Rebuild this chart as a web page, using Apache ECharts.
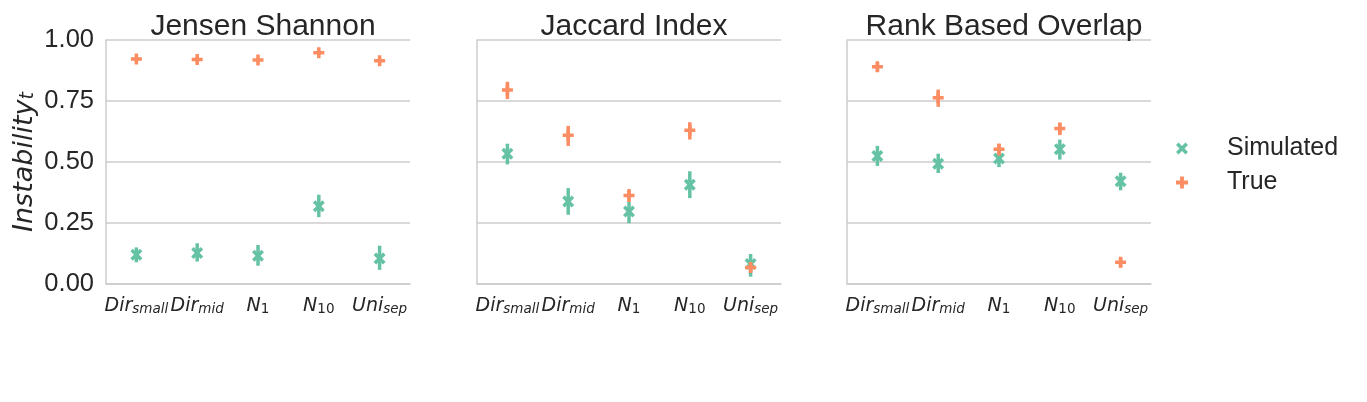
<!DOCTYPE html>
<html>
<head>
<meta charset="utf-8">
<script src="https://cdn.jsdelivr.net/npm/echarts@6/dist/echarts.min.js"></script>
<style>
html,body{margin:0;padding:0;background:#fff;}
#chart{width:1367px;height:402px;}
</style>
</head>
<body>
<div id="chart"></div>
<script>
// ---- data ----
const catBase = ['Dir', 'Dir', 'N', 'N', 'Uni'];
const catSub = ['small', 'mid', '1', '10', 'sep'];
const panelTitles = ['Jensen Shannon', 'Jaccard Index', 'Rank Based Overlap'];
const yTicks = [0, 0.25, 0.5, 0.75, 1.0];
const seriesNames = ['Simulated', 'True'];

// Jensen Shannon
const jsSimMean = [0.120, 0.127, 0.116, 0.319, 0.105];
const jsSimLow  = [0.089, 0.092, 0.075, 0.274, 0.058];
const jsSimHigh = [0.150, 0.167, 0.160, 0.366, 0.157];
const jsTrueMean = [0.922, 0.920, 0.918, 0.948, 0.915];
const jsTrueLow  = [0.912, 0.910, 0.908, 0.938, 0.905];
const jsTrueHigh = [0.932, 0.930, 0.928, 0.958, 0.925];

// Jaccard Index
const jaSimMean = [0.534, 0.338, 0.297, 0.407, 0.082];
const jaSimLow  = [0.490, 0.284, 0.249, 0.352, 0.030];
const jaSimHigh = [0.575, 0.393, 0.336, 0.462, 0.123];
const jaTrueMean = [0.795, 0.610, 0.363, 0.630, 0.068];
const jaTrueLow  = [0.758, 0.566, 0.336, 0.592, 0.048];
const jaTrueHigh = [0.829, 0.648, 0.389, 0.663, 0.089];

// Rank Based Overlap
const rbSimMean = [0.525, 0.493, 0.514, 0.552, 0.421];
const rbSimLow  = [0.484, 0.455, 0.479, 0.510, 0.384];
const rbSimHigh = [0.566, 0.534, 0.548, 0.592, 0.456];
const rbTrueMean = [0.890, 0.763, 0.552, 0.637, 0.089];
const rbTrueLow  = [0.870, 0.726, 0.527, 0.610, 0.068];
const rbTrueHigh = [0.908, 0.797, 0.575, 0.662, 0.107];

// ---- styling ----
const colors = ['#66c2a5', '#fc8d62'];
const xPath = 'path://M0,2.1L2.1,0L5,2.9L7.9,0L10,2.1L7.1,5L10,7.9L7.9,10L5,7.1L2.1,10L0,7.9L2.9,5Z';
const plusPath = 'path://M3.4,0H6.6V3.4H10V6.6H6.6V10H3.4V6.6H0V3.4H3.4Z';
const symbols = [xPath, plusPath];
const textColor = '#262626';
const gridColor = '#cccccc';
const sansFont = '"Liberation Sans", Arial, Helvetica, sans-serif';
const mathFont = '"DejaVu Sans", sans-serif';

const panels = [
  [[jsSimMean, jsSimLow, jsSimHigh], [jsTrueMean, jsTrueLow, jsTrueHigh]],
  [[jaSimMean, jaSimLow, jaSimHigh], [jaTrueMean, jaTrueLow, jaTrueHigh]],
  [[rbSimMean, rbSimLow, rbSimHigh], [rbTrueMean, rbTrueLow, rbTrueHigh]]
];

const gridLefts = [106, 477, 847];
const gridWidth = 304;
const gridTop = 40;
const gridHeight = 244;

const catLabels = catBase.map((b, i) => {
  const isDigit = /^[0-9]+$/.test(catSub[i]);
  return '{b|' + b + '}{' + (isDigit ? 'd' : 's') + '|' + catSub[i] + '}';
});

const grids = [], xAxes = [], yAxes = [], series = [], titles = [];
panels.forEach((panel, p) => {
  grids.push({ left: gridLefts[p], top: gridTop, width: gridWidth, height: gridHeight, containLabel: false });
  titles.push({
    text: panelTitles[p], left: gridLefts[p] + gridWidth / 2, top: 7, textAlign: 'center',
    textStyle: { fontFamily: sansFont, fontSize: 30, fontWeight: 'normal', color: textColor }
  });
  xAxes.push({
    type: 'category', gridIndex: p, data: catLabels, boundaryGap: true,
    axisLine: { show: true, lineStyle: { color: gridColor, width: 1.5 } },
    axisTick: { show: false },
    splitLine: { show: false },
    axisLabel: {
      interval: 0, margin: 9, color: textColor,
      rich: {
        b: { fontFamily: mathFont, fontStyle: 'italic', fontSize: 19, lineHeight: 23, verticalAlign: 'bottom', color: textColor },
        s: { fontFamily: mathFont, fontStyle: 'italic', fontSize: 13.5, lineHeight: 13, padding: [10, 0, 0, 0], verticalAlign: 'bottom', color: textColor },
        d: { fontFamily: mathFont, fontStyle: 'normal', fontSize: 13.5, lineHeight: 13, padding: [10, 0, 0, 0], verticalAlign: 'bottom', color: textColor }
      }
    }
  });
  const yAx = {
    type: 'value', gridIndex: p, min: 0, max: 1, interval: 0.25,
    axisLine: { show: true, lineStyle: { color: gridColor, width: 1.5 } },
    axisTick: { show: false },
    splitLine: { show: true, lineStyle: { color: gridColor, width: 1.5 } },
    axisLabel: {
      show: p === 0, margin: 12, color: textColor, fontFamily: sansFont, fontSize: 25.5,
      formatter: v => yTicks.indexOf(v) >= 0 ? v.toFixed(2) : ''
    }
  };
  if (p === 0) {
    yAx.name = '{i|Instability}{t|t}';
    yAx.nameLocation = 'middle';
    yAx.nameGap = 68;
    yAx.nameRotate = 90;
    yAx.nameTextStyle = {
      rich: {
        i: { fontFamily: mathFont, fontStyle: 'italic', fontSize: 27, lineHeight: 32, verticalAlign: 'bottom', color: textColor },
        t: { fontFamily: mathFont, fontStyle: 'italic', fontSize: 19, lineHeight: 19, padding: [13, 0, 0, 0], verticalAlign: 'bottom', color: textColor }
      }
    };
  }
  yAxes.push(yAx);

  panel.forEach((s, k) => {
    const [mean, low, high] = s;
    // error bars
    series.push({
      name: seriesNames[k] + ' CI', type: 'custom', xAxisIndex: p, yAxisIndex: p, z: 2 + k * 2,
      data: low.map((l, i) => [i, l, high[i]]),
      encode: { x: 0, y: [1, 2] },
      renderItem: (params, api) => {
        const a = api.coord([api.value(0), api.value(1)]);
        const b = api.coord([api.value(0), api.value(2)]);
        return {
          type: 'line',
          shape: { x1: a[0], y1: a[1], x2: b[0], y2: b[1] },
          style: { stroke: colors[k], lineWidth: 3.5, lineCap: 'butt' }
        };
      },
      silent: true
    });
    // point markers
    series.push({
      name: seriesNames[k], type: 'scatter', xAxisIndex: p, yAxisIndex: p, z: 3 + k * 2,
      data: mean.map((m, i) => [i, m]),
      symbol: symbols[k], symbolSize: k === 0 ? 12 : 11,
      itemStyle: { color: colors[k], opacity: 1 },
      silent: true
    });
  });
});

const chart = echarts.init(document.getElementById('chart'), null, { renderer: 'canvas' });
chart.setOption({
  backgroundColor: '#ffffff',
  animation: false,
  title: titles,
  grid: grids,
  xAxis: xAxes,
  yAxis: yAxes,
  legend: {
    orient: 'vertical', left: 1171, top: 131,
    data: [{ name: 'Simulated', icon: xPath }, { name: 'True', icon: plusPath }],
    itemWidth: 12, itemHeight: 12, itemGap: 9,
    textStyle: { fontFamily: sansFont, fontSize: 25, color: textColor, padding: [0, 0, 0, 34] }
  },
  series: series
});
</script>
</body>
</html>
